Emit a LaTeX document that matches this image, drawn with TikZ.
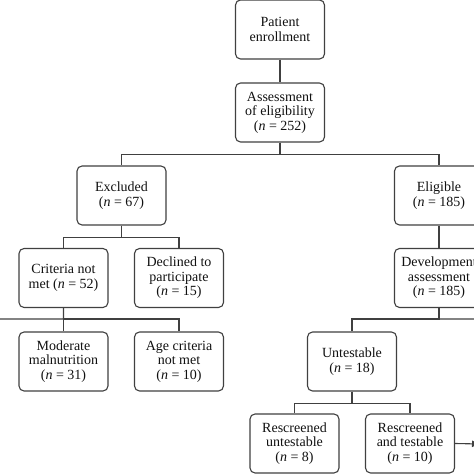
\documentclass[tikz,border=0pt]{standalone}
\usepackage{fontspec}
\setmainfont{Liberation Serif}
\usetikzlibrary{arrows.meta}
\definecolor{LineGray}{HTML}{404040}
\definecolor{InkBlack}{HTML}{111111}

\begin{document}
\begin{tikzpicture}[x=1pt, y=1pt,
    flowbox/.style={draw=LineGray, fill=white, line width=1.1pt, rounded corners=5pt,
        minimum width=89pt, minimum height=59pt, inner sep=2pt, align=center,
        text=InkBlack, font=\fontsize{14}{14.5}\selectfont},
    link/.style={draw=LineGray, line width=1.1pt}]
    \clip (0,0) rectangle (474,474);

    % screening
    \node[flowbox] (enroll) at (280,444.5) {Patient\\enrollment};
    \node[flowbox] (assess) at (280,361.5) {Assessment\\of eligibility\\(\textit{n} = 252)};

    % first split
    \node[flowbox] (excluded) at (121.5,278.5) {Excluded\\(\textit{n} = 67)};
    \node[flowbox] (eligible) at (439,278.5) {Eligible\\(\textit{n} = 185)};

    \node[flowbox] (criteria) at (63.5,196) {Criteria not\\met (\textit{n} = 52)};
    \node[flowbox] (declined) at (179,196) {Declined to\\participate\\(\textit{n} = 15)};
    \node[flowbox] (develop) at (439,196) {Development\\assessment\\(\textit{n} = 185)};

    \node[flowbox] (moderate) at (63.5,112.5) {Moderate\\malnutrition\\(\textit{n} = 31)};
    \node[flowbox] (agecrit) at (179,112.5) {Age criteria\\not met\\(\textit{n} = 10)};
    \node[flowbox] (untest) at (352,112.5) {Untestable\\(\textit{n} = 18)};

    \node[flowbox] (rescrU) at (294.5,30.5) {Rescreened\\untestable\\(\textit{n} = 8)};
    \node[flowbox] (rescrT) at (410,30.5) {Rescreened\\and testable\\(\textit{n} = 10)};

    % branches running off the page
    \coordinate (offleft) at (-30,155);
    \coordinate (offright) at (500,155);
    \coordinate (offnext) at (480,30);

    % connectors
    \draw[link] (enroll) -- (assess);
    \draw[link] (assess.south) -- ++(0,-12) -| (excluded.north);
    \draw[link] (assess.south) -- ++(0,-12) -| (eligible.north);
    \draw[link] (excluded.south) -- ++(0,-12) -| (criteria.north);
    \draw[link] (excluded.south) -- ++(0,-12) -| (declined.north);
    \draw[link] (eligible) -- (develop);
    \draw[link] (criteria.south) -- ++(0,-11) -| (moderate.north);
    \draw[link] (criteria.south) -- ++(0,-11) -| (agecrit.north);
    \draw[link] (criteria.south) -- ++(0,-11) -- (offleft);
    \draw[link] (develop.south) -- ++(0,-11) -| (untest.north);
    \draw[link] (develop.south) -- ++(0,-11) -- (offright);
    \draw[link] (untest.south) -- ++(0,-12) -| (rescrU.north);
    \draw[link] (untest.south) -- ++(0,-12) -| (rescrT.north);
    \draw[link, -{Latex[length=8pt, width=7pt]}] (rescrT.east) -- (offnext);
\end{tikzpicture}
\end{document}
